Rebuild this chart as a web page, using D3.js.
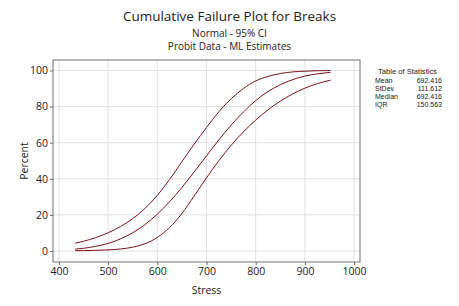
<!DOCTYPE html>
<html><head><meta charset="utf-8">
<script src="https://cdn.jsdelivr.net/npm/d3@7"></script>
<style>
body{margin:0;background:#fff;}
text{font-family:"Open Sans","Noto Sans",sans-serif;fill:#222;}
.tbl{font-family:"Liberation Sans",Arial,sans-serif;}
</style></head>
<body><svg id="c" width="459" height="306"></svg>
<script>
const stress   = [433, 450, 475, 500, 525, 550, 575, 600, 625, 650, 675, 700, 725, 750, 775, 800, 825, 850, 875, 900, 925, 952];
const fitted   = [1.0, 1.5, 2.6, 4.2, 6.7, 10.1, 14.6, 20.4, 27.3, 35.2, 43.8, 52.7, 61.5, 69.7, 77.0, 83.3, 88.3, 92.1, 94.9, 96.9, 98.1, 99.0];
const upperCI  = [4.3, 5.4, 7.4, 10.1, 13.5, 17.9, 23.6, 30.8, 39.6, 49.5, 59.2, 68.4, 77.1, 84.3, 90.0, 94.2, 96.7, 98.3, 99.2, 99.6, 99.85, 99.95];
const lowerCI  = [0.15, 0.22, 0.35, 0.6, 1.1, 2.1, 4.0, 7.5, 13.0, 20.8, 30.5, 40.5, 50.0, 58.5, 66.0, 72.5, 78.2, 83.0, 87.0, 90.2, 92.7, 94.6];
const xTicks   = [400, 500, 600, 700, 800, 900, 1000];
const yTicks   = [0, 20, 40, 60, 80, 100];
const statNames  = ["Mean", "StDev", "Median", "IQR"];
const statValues = ["692.416", "111.612", "692.416", "150.563"];

const svg = d3.select("#c");
const L = 53, R = 360, T = 60, B = 262;
const x = d3.scaleLinear().domain([388, 1012]).range([L, R]);
const y = d3.scaleLinear().domain([-6.1, 105.8]).range([B, T]);

// gridlines
svg.append("g").selectAll("line").data(xTicks).join("line")
  .attr("x1", d => x(d)).attr("x2", d => x(d)).attr("y1", T).attr("y2", B)
  .attr("stroke", "#e1e1e1").attr("stroke-width", 1);
svg.append("g").selectAll("line").data(yTicks).join("line")
  .attr("y1", d => y(d)).attr("y2", d => y(d)).attr("x1", L).attr("x2", R)
  .attr("stroke", "#e1e1e1").attr("stroke-width", 1);

// axes
const xa = svg.append("g").attr("transform", `translate(0,${B})`)
  .call(d3.axisBottom(x).tickValues(xTicks).tickFormat(d3.format("d")).tickSize(3).tickPadding(3));
const ya = svg.append("g").attr("transform", `translate(${L},0)`)
  .call(d3.axisLeft(y).tickValues(yTicks).tickFormat(d3.format("d")).tickSize(3).tickPadding(2));
[xa, ya].forEach(g => {
  g.select(".domain").remove();
  g.selectAll(".tick line").attr("stroke", "#666");
  g.selectAll(".tick text").attr("font-size", 10.5).attr("fill", "#222")
    .style("font-family", '"Open Sans","Noto Sans",sans-serif');
});

// frame
svg.append("rect").attr("x", L).attr("y", T).attr("width", R - L).attr("height", B - T)
  .attr("fill", "none").attr("stroke", "#707070").attr("stroke-width", 1);

// curves
const line = d3.line().x(d => x(d[0])).y(d => y(d[1])).curve(d3.curveMonotoneX);
[lowerCI, fitted, upperCI].forEach(vals => {
  svg.append("path").datum(stress.map((s, i) => [s, vals[i]]))
    .attr("d", line).attr("fill", "none").attr("stroke", "#7a1218").attr("stroke-width", 1);
});

// titles
svg.append("text").attr("x", 229.5).attr("y", 21).attr("text-anchor", "middle")
  .attr("font-size", 13.5).attr("fill", "#2a2a2a").text("Cumulative Failure Plot for Breaks");
svg.append("text").attr("x", 229.5).attr("y", 36.5).attr("text-anchor", "middle")
  .attr("font-size", 10).attr("fill", "#333").text("Normal - 95% CI");
svg.append("text").attr("x", 229.5).attr("y", 50).attr("text-anchor", "middle")
  .attr("font-size", 10).attr("fill", "#333").text("Probit Data - ML Estimates");

// axis titles
svg.append("text").attr("x", 206.5).attr("y", 294).attr("text-anchor", "middle")
  .attr("font-size", 10.5).text("Stress");
svg.append("text").attr("transform", "translate(28,161) rotate(-90)").attr("text-anchor", "middle")
  .attr("font-size", 10.5).text("Percent");

// statistics table
svg.append("text").attr("class", "tbl").attr("x", 407.5).attr("y", 73.5).attr("text-anchor", "middle")
  .attr("font-size", 7.6).text("Table of Statistics");
const rows = svg.append("g").selectAll("g").data(statNames).join("g")
  .attr("transform", (d, i) => `translate(0,${82.8 + i * 8.1})`);
rows.append("text").attr("class", "tbl").attr("x", 375).attr("font-size", 7).text(d => d);
rows.append("text").attr("class", "tbl").attr("x", 442).attr("text-anchor", "end").attr("font-size", 7)
  .text((d, i) => statValues[i]);
</script></body></html>
